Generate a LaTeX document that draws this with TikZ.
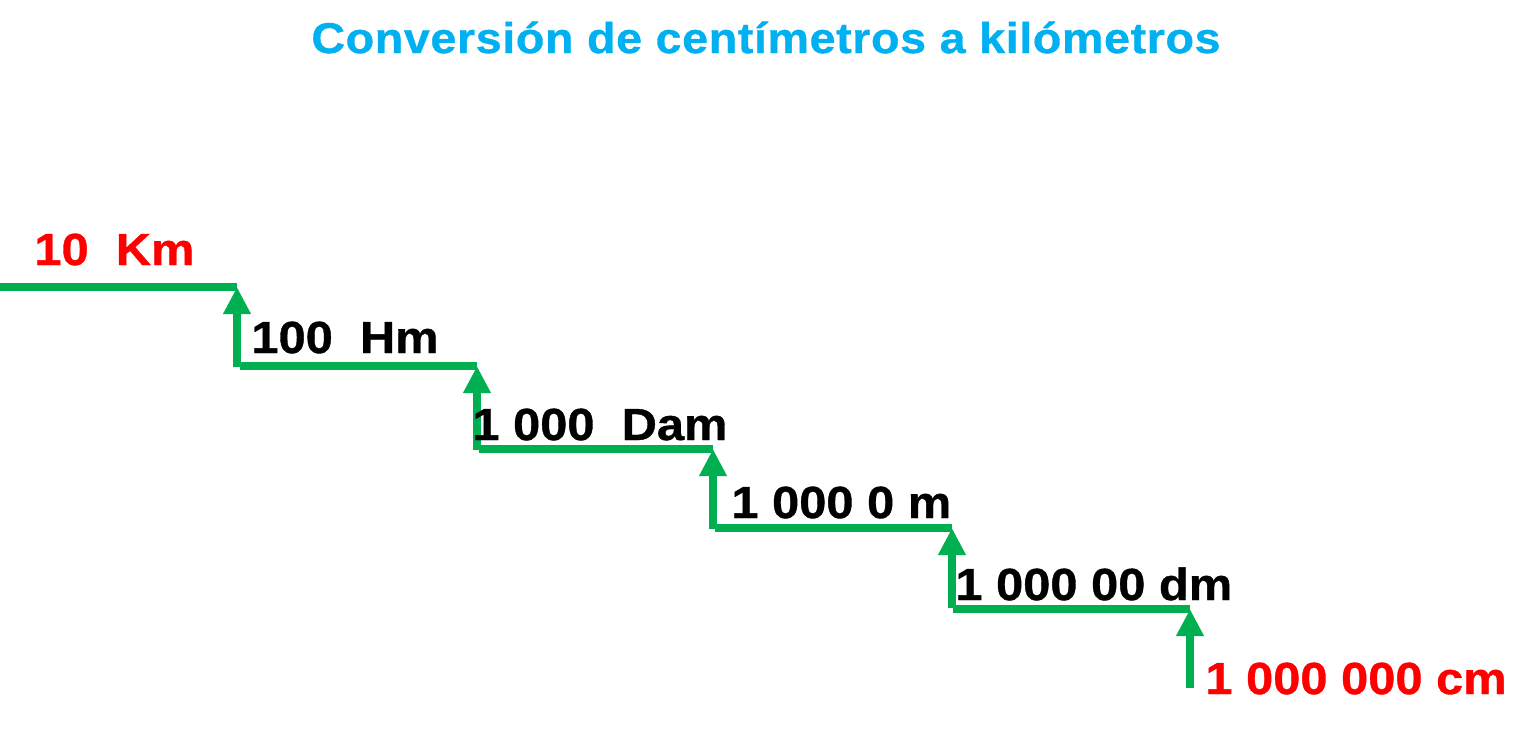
\documentclass[tikz,border=0pt]{standalone}
\usepackage{fontspec}
\setmainfont{Liberation Sans}[FakeStretch=1.085, FakeBold=0.8]
\usepackage{tikz}
\usetikzlibrary{arrows.meta, positioning}
\definecolor{verde}{HTML}{00B050}
\definecolor{celeste}{HTML}{00B0F0}
\definecolor{rojo}{HTML}{FF0000}

\begin{document}
\begin{tikzpicture}[
    x=0.5pt, y=-0.5pt,
    escalon/.style={draw=verde, line width=4pt},
    flecha/.style={draw=verde, line width=4pt, -{Triangle[width=13pt, length=13.5pt]}},
    unidad/.style={anchor=base west, inner sep=0pt, font=\fontsize{22.5pt}{27pt}\selectfont\bfseries},
    extremo/.style={unidad, text=rojo},
    titulo/.style={anchor=base, inner sep=0pt, text=celeste, font=\fontsize{21.5pt}{26pt}\selectfont\bfseries\addfontfeature{LetterSpace=1.4}}
]
\useasboundingbox (0,0) rectangle (1536,730);

% Title
\node[titulo] (title) at (766,53) {Conversión de centímetros a kilómetros};

% Step corners
\coordinate (km0) at (0,287);    \coordinate (km1) at (237,287);
\coordinate (hm0) at (240,366);  \coordinate (hm1) at (477,366);
\coordinate (dam0) at (479,449); \coordinate (dam1) at (713,449);
\coordinate (m0) at (715,528);   \coordinate (m1) at (952,528);
\coordinate (dm0) at (953,609);  \coordinate (dm1) at (1190,609);
\coordinate (cm0) at (1190,688);

% Horizontal steps
\draw[escalon] (km0) -- (km1);
\draw[escalon] (hm0) -- (hm1);
\draw[escalon] (dam0) -- (dam1);
\draw[escalon] (m0) -- (m1);
\draw[escalon] (dm0) -- (dm1);

% Arrows going up one step
\draw[flecha] (237,367) -- (km1);
\draw[flecha] (477,450) -- (hm1);
\draw[flecha] (713,529) -- (dam1);
\draw[flecha] (952,608) -- (m1);
\draw[flecha] (cm0) -- (dm1);

% Labels
\node[extremo] (km) at (34,265) {10\ \ Km};
\node[unidad] (hm) at (251,353) {100\ \ Hm};
\node[unidad] (dam) at (472,440) {1 000\ \ Dam};
\node[unidad] (m) at (731,518) {1 000 0 m};
\node[unidad] (dm) at (955,600) {1 000 00 dm};
\node[extremo] (cm) at (1205,694) {1 000 000 cm};

\end{tikzpicture}
\end{document}
